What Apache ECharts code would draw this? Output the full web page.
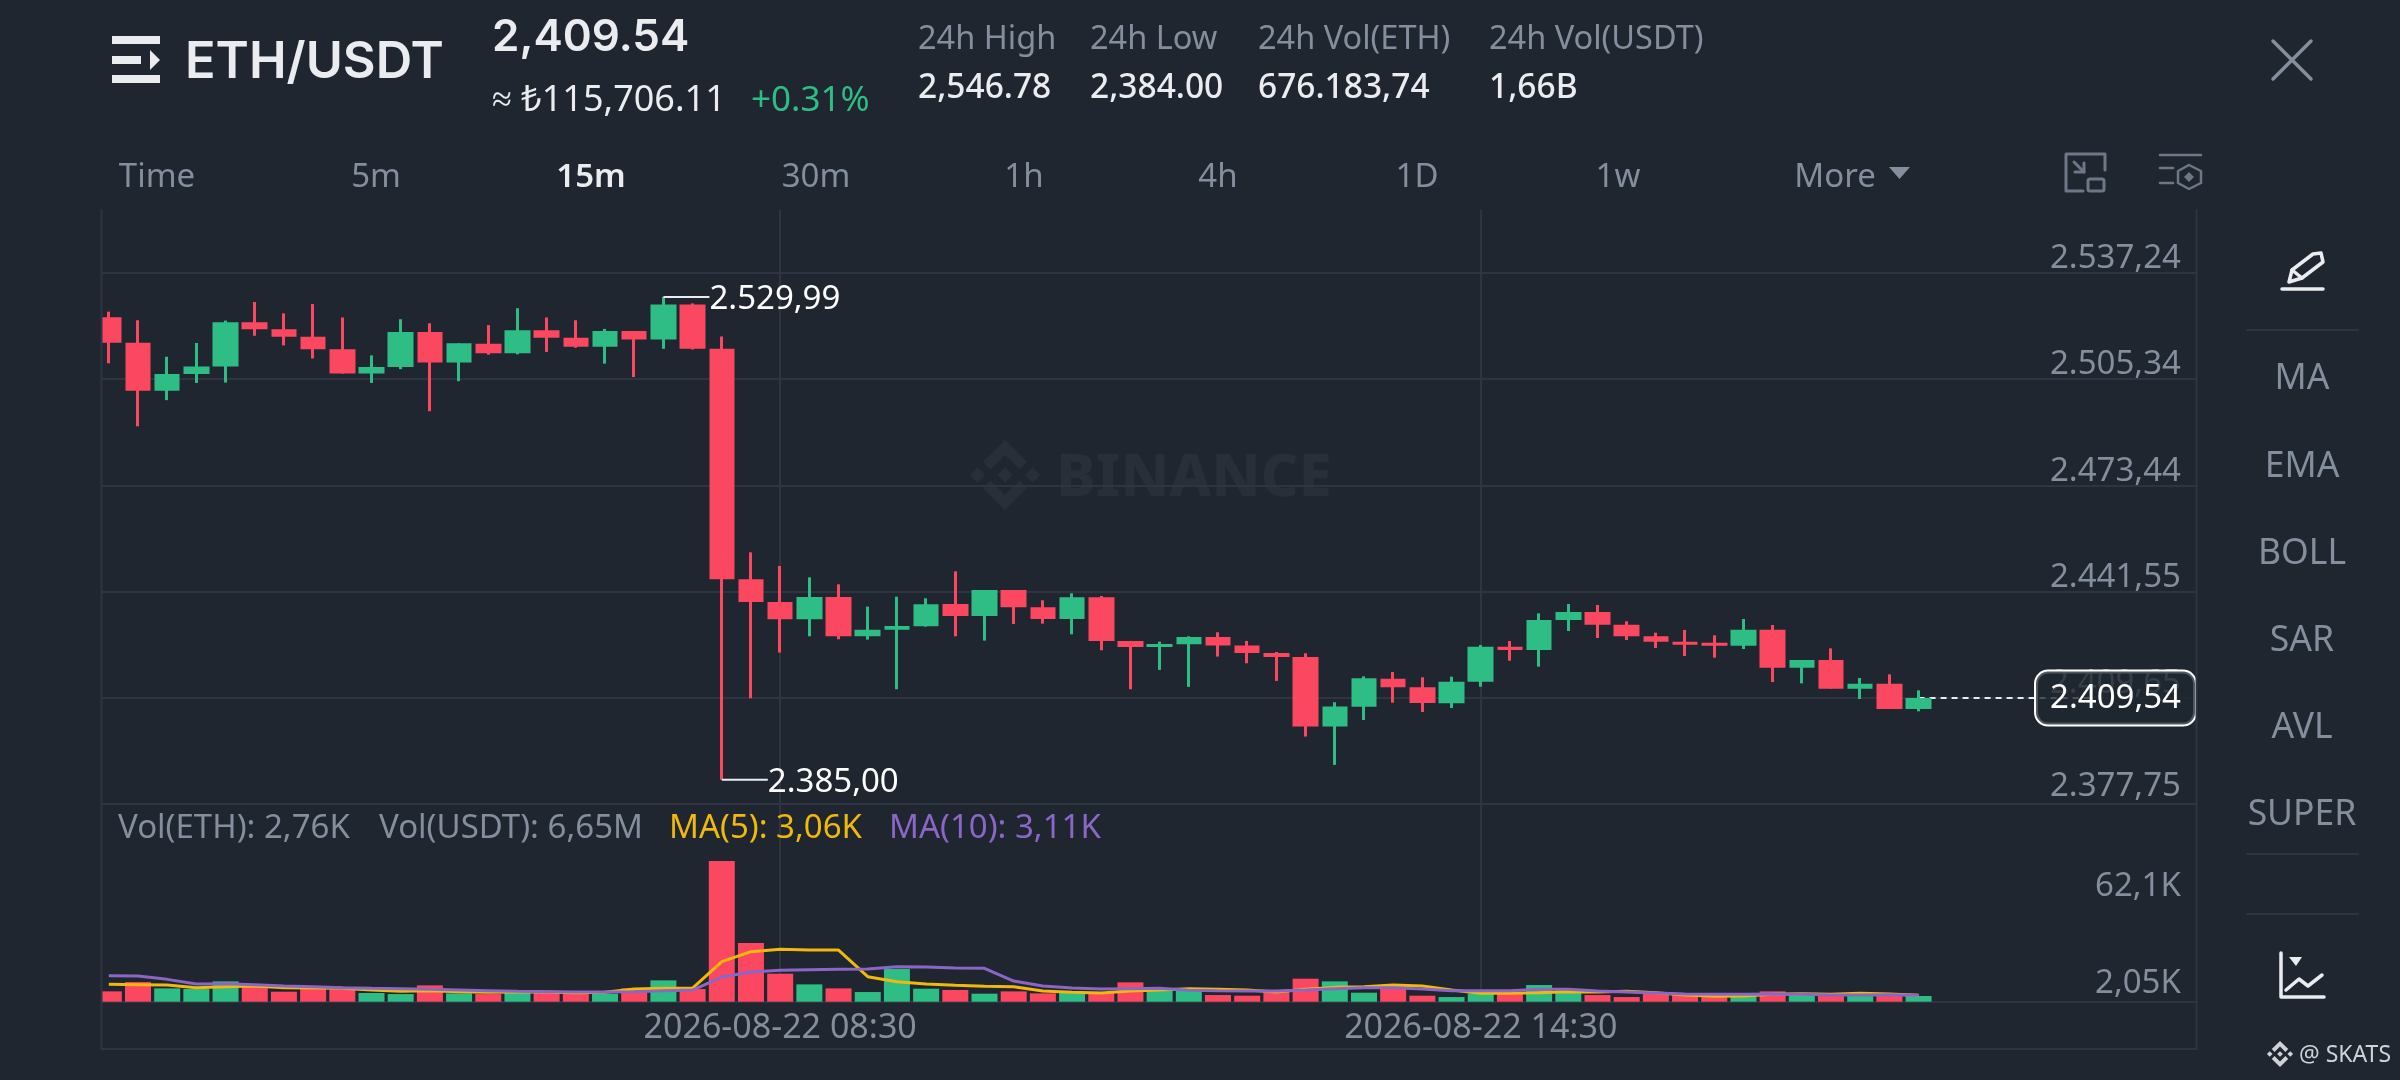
<!DOCTYPE html>
<html>
<head>
<meta charset="utf-8">
<style>html,body{margin:0;padding:0;background:#1f2630}#c{width:2400px;height:1080px}</style>
<script src="https://cdn.jsdelivr.net/npm/echarts@6/dist/echarts.min.js"></script>
</head>
<body>
<div id="c"></div>
<script>
const times = ['02:45','03:00','03:15','03:30','03:45','04:00','04:15','04:30','04:45','05:00','05:15','05:30','05:45','06:00','06:15','06:30','06:45','07:00','07:15','07:30','07:45','08:00','08:15','08:30','08:45','09:00','09:15','09:30','09:45','10:00','10:15','10:30','10:45','11:00','11:15','11:30','11:45','12:00','12:15','12:30','12:45','13:00','13:15','13:30','13:45','14:00','14:15','14:30','14:45','15:00','15:15','15:30','15:45','16:00','16:15','16:30','16:45','17:00','17:15','17:30','17:45','18:00','18:15','18:30','18:45','19:00','19:15','19:30','19:45','20:00','20:15','20:30'];
const labelledTimes = ['08:30','14:30'];
const opens = [2523.91,2516.26,2501.79,2506.85,2509.12,2522.36,2520.29,2518.02,2514.29,2506.96,2508.92,2519.46,2510.26,2515.95,2513.05,2519.98,2517.71,2515.02,2519.77,2517.19,2527.73,2514.4,2445.2,2438.4,2433.2,2439.9,2428.1,2430.1,2431.1,2437.8,2434.2,2442.0,2436.8,2433.3,2439.8,2426.7,2424.9,2425.7,2427.9,2425.3,2423.1,2421.9,2401.0,2406.97,2415.38,2412.77,2407.97,2414.47,2424.98,2423.98,2432.99,2435.39,2431.59,2428.08,2426.48,2426.18,2425.28,2430.09,2418.68,2420.98,2412.37,2413.87,2406.27];
const closes = [2516.26,2501.79,2506.85,2509.12,2522.36,2520.29,2518.02,2514.29,2506.96,2508.92,2519.46,2510.26,2516.05,2513.05,2519.98,2517.71,2515.02,2519.77,2517.19,2527.73,2514.4,2445.24,2438.4,2433.2,2439.9,2428.1,2430.1,2431.2,2437.7,2434.2,2442.0,2436.8,2433.3,2439.8,2426.7,2424.9,2425.8,2427.9,2425.3,2423.1,2421.9,2401.0,2407.0,2415.48,2412.77,2408.07,2414.47,2424.98,2423.98,2432.99,2435.39,2431.59,2428.08,2426.48,2425.58,2425.28,2430.09,2418.68,2420.98,2412.37,2413.87,2406.27,2409.54];
const lows = [2510.06,2491.14,2498.99,2504.16,2504.27,2518.33,2515.43,2511.5,2506.96,2504.16,2508.3,2495.68,2504.68,2512.64,2512.74,2513.47,2514.71,2509.95,2505.92,2514.4,2514.19,2385.0,2409.5,2423.2,2428.1,2427.2,2427.1,2412.2,2431.0,2428.1,2426.8,2431.8,2431.9,2428.7,2423.9,2412.2,2418.0,2412.9,2422.0,2420.0,2414.7,2398.0,2389.5,2402.97,2408.17,2405.37,2406.57,2412.97,2420.78,2418.98,2429.69,2427.58,2426.98,2424.58,2422.18,2421.68,2424.28,2414.37,2413.97,2412.37,2409.27,2406.27,2405.57];
const highs = [2525.56,2522.98,2512.02,2516.16,2522.88,2528.46,2525.05,2527.84,2523.81,2512.43,2523.29,2522.05,2516.05,2521.53,2526.6,2523.81,2522.98,2520.39,2519.77,2529.99,2528.04,2518.12,2453.31,2449.21,2445.8,2443.7,2437.0,2440.0,2439.5,2447.6,2442.0,2442.0,2438.9,2441.0,2440.2,2426.7,2426.5,2428.1,2429.3,2426.7,2423.4,2423.0,2408.3,2416.08,2417.38,2415.78,2415.98,2425.48,2426.68,2434.99,2437.79,2437.49,2432.59,2429.18,2429.99,2428.38,2433.29,2431.49,2420.98,2424.48,2415.58,2416.68,2411.87];
const volumes = [4.99,9.5,6.44,6.12,9.82,7.25,4.83,6.12,5.96,4.19,3.7,7.89,4.03,3.7,4.19,4.35,3.86,3.86,6.44,10.31,6.12,67.95,28.34,13.53,8.37,6.44,4.67,15.78,6.28,5.64,3.86,4.99,4.03,4.35,4.35,9.34,5.96,5.96,3.22,2.9,4.99,11.11,9.82,4.35,7.57,2.9,2.25,4.03,4.51,8.05,5.96,3.22,2.25,4.03,3.22,2.25,2.9,4.99,3.22,2.74,2.9,2.9,2.76];
const ma5 = [8.37,8.21,8.05,6.76,7.25,7.57,6.76,6.6,6.44,5.64,4.99,5.31,4.83,4.51,4.67,4.67,4.35,4.51,6.12,6.44,6.6,19.32,24.15,25.28,24.96,24.96,12.08,9.66,8.53,7.89,7.41,7.25,5.15,4.51,4.19,5.15,5.64,6.28,5.96,5.64,4.67,5.96,6.92,7.25,8.05,7.57,5.64,4.03,4.03,4.35,4.83,4.67,4.99,4.35,3.22,2.58,2.74,3.54,3.86,3.54,4.03,3.7,3.06];
const ma10 = [12.56,12.4,10.79,8.53,8.7,8.21,7.57,7.25,6.76,6.44,6.28,5.96,5.64,5.31,4.99,4.83,4.67,4.67,4.83,5.31,5.64,11.92,14.33,15.14,15.46,15.62,15.78,16.91,16.75,16.26,16.1,9.98,7.57,6.6,6.12,6.28,6.44,5.48,5.31,5.15,5.15,5.64,6.28,6.76,6.76,6.12,5.31,5.31,5.31,5.96,5.96,5.15,4.67,4.19,3.7,3.54,3.54,3.7,3.54,3.22,3.22,3.38,3.11];
const priceTickLabels = ['2.377,75','2.409,65','2.441,55','2.473,44','2.505,34','2.537,24'];
const volumeTickValues = [2.05,62.1];
const volumeTickLabels = ['2,05K','62,1K'];
const tabNames = ['Time','5m','15m','30m','1h','4h','1D','1w','More'];
const indicatorNames = ['MA','EMA','BOLL','SAR','AVL','SUPER'];
const statNames = ['24h High','24h Low','24h Vol(ETH)','24h Vol(USDT)'];
const statValues = ['2,546.78','2,384.00','676.183,74','1,66B'];

const FONT='"Noto Sans"';
const BG='#1f2630', GRID='#2e3541', GREY='#848e9c', LIGHT='#eaecef', UP='#2ebd85', DOWN='#fb4760', YEL='#f0b90b', PUR='#8a67c6';
const categories = times.map(t=>'2026-08-22 '+t);
const candles = opens.map((o,i)=>[o,closes[i],lows[i],highs[i]]);

const g=[];
function txt(x,y,text,size,fill,weight,align,family){g.push({type:'text',z:50,style:{x,y,text,fontSize:size,fontFamily:family||FONT,fontWeight:weight||400,fill,align:align||'left',verticalAlign:'middle'}});}
function ln(pts,stroke,w,fill){g.push({type:'polyline',z:50,shape:{points:pts},style:{stroke,lineWidth:w,fill:fill||null,lineJoin:'round',lineCap:'round'}});}
function rc(x,y,w,h,fill,r){g.push({type:'rect',z:50,shape:{x,y,width:w,height:h,r:r||0},style:{fill}});}
function poly(pts,fill,z){g.push({type:'polygon',z:z===undefined?50:z,shape:{points:pts},style:{fill}});}
function logo(cx,cy,r,fill,z){
  const sq=(x,y,s)=>poly([[x,y-s],[x+s,y],[x,y+s],[x-s,y]],fill,z);
  sq(cx,cy,r*.22);sq(cx-r*.79,cy,r*.22);sq(cx+r*.79,cy,r*.22);
  poly([[cx,cy-r],[cx+r*.63,cy-r*.38],[cx+r*.42,cy-r*.16],[cx,cy-r*.57],[cx-r*.42,cy-r*.16],[cx-r*.63,cy-r*.38]],fill,z);
  poly([[cx,cy+r],[cx+r*.63,cy+r*.38],[cx+r*.42,cy+r*.16],[cx,cy+r*.57],[cx-r*.42,cy+r*.16],[cx-r*.63,cy+r*.38]],fill,z);
}
// left clip strip and frame
rc(90,205,11,810,BG);
ln([[101.5,210],[101.5,1049],[2196.5,1049],[2196.5,210]],GRID,2);
// header
rc(112,36,48,8,LIGHT);rc(112,56,29,8,LIGHT);rc(112,75,48,8,LIGHT);poly([[150,50],[160,60],[150,70]],LIGHT);
txt(185,63,'ETH/USDT',50.5,LIGHT,600,'left','Inter');
txt(492,38,'2,409.54',44,LIGHT,600,'left','Inter');
txt(492,101,'≈ ₺115,706.11',36,LIGHT,400);
txt(751,101,'+0.31%',35,UP,400);
[918,1090,1258,1489].forEach((x,i)=>{txt(x,40,statNames[i],32.5,GREY);txt(x,88,statValues[i],33.5,LIGHT,500);});
ln([[2273,41],[2311,79]],GREY,3.5);ln([[2311,41],[2273,79]],GREY,3.5);
[157,376,591,816,1024,1218,1417,1618,1835].forEach((x,i)=>txt(x,178,tabNames[i],33,i===2?LIGHT:GREY,i===2?600:400,'center'));
poly([[1889,167],[1910,167],[1899.5,179]],GREY);
// top-right icons
ln([[2105,170],[2105,154],[2066,154],[2066,191],[2083,191]],'#6e7785',3);
g.push({type:'rect',z:50,shape:{x:2088,y:179,width:16,height:12,r:2},style:{stroke:'#6e7785',lineWidth:3,fill:null}});
ln([[2074,162],[2084,172]],'#6e7785',3);ln([[2084,163],[2084,172],[2075,172]],'#6e7785',3);
ln([[2160,155],[2201,155]],'#6e7785',2.5);ln([[2160,168],[2173,168]],'#6e7785',2.5);ln([[2160,183],[2173,183]],'#6e7785',2.5);
ln([[2189,165],[2201,171],[2201,183],[2189,189],[2178,183],[2178,171],[2189,165]],'#6e7785',2.5);
poly([[2189,172],[2194,177],[2189,182],[2184,177]],'#6e7785');
// right column
ln([[2282,289],[2323,289]],LIGHT,3.5);
ln([[2289,282],[2292,270],[2313,254],[2321,253],[2323,262],[2302,278],[2289,282]],LIGHT,3.5);ln([[2292,270],[2302,278]],LIGHT,3.5);
ln([[2247,330],[2358,330]],GRID,2);ln([[2247,854],[2358,854]],GRID,2);ln([[2247,914],[2358,914]],GRID,2);
[379,467,554,641,728,815].forEach((y,i)=>txt(2302,y,indicatorNames[i],35.5,GREY,400,'center'));
ln([[2281,953],[2281,997],[2324,997]],LIGHT,3.5);ln([[2286,990],[2299,979],[2308,986],[2322,975]],LIGHT,3.5);
poly([[2289,957],[2302,957],[2296,966]],LIGHT);
// legend over volume pane
txt(118,829,'Vol(ETH): 2,76K',33,GREY);
txt(379,829,'Vol(USDT): 6,65M',33,GREY);
txt(669,829,'MA(5): 3,06K',33,YEL);
txt(889,829,'MA(10): 3,11K',33,PUR);
// watermark
logo(1005,475,35,'rgba(255,255,255,.045)',-1);
g.push({type:'text',z:-1,style:{x:1056,y:479,text:'BINANCE',fontSize:59.5,fontFamily:FONT,fontWeight:800,fill:'rgba(255,255,255,.045)',verticalAlign:'middle'}});
// signature
logo(2280,1054,13,'#cfd3d8');
txt(2299,1055,'@ SKATS',23,'#cfd3d8');

const labelIdx = labelledTimes.map(t=>times.indexOf(t));
const candleBase={type:'candlestick',xAxisIndex:0,yAxisIndex:0,data:candles};
const chart=echarts.init(document.getElementById('c'));
chart.setOption({
  backgroundColor:BG,
  animation:false,
  textStyle:{fontFamily:FONT},
  graphic:g,
  grid:[{left:94.2,right:204.1,top:210,height:594},{left:94.2,right:204.1,top:804,height:197.7}],
  xAxis:[
    {type:'category',gridIndex:0,data:categories,boundaryGap:true,axisLine:{show:false},axisTick:{show:false},axisLabel:{show:false},
      splitLine:{show:true,alignWithLabel:true,interval:(i)=>labelIdx.includes(i),lineStyle:{color:GRID,width:2}}},
    {type:'category',gridIndex:1,data:categories,boundaryGap:true,axisLine:{show:true,lineStyle:{color:GRID,width:2}},axisTick:{show:false},
      axisLabel:{show:true,interval:(i)=>labelIdx.includes(i),color:GREY,fontSize:34,margin:10,hideOverlap:false},
      splitLine:{show:true,alignWithLabel:true,interval:(i)=>labelIdx.includes(i),lineStyle:{color:GRID,width:2}}}
  ],
  yAxis:[
    {type:'value',gridIndex:0,position:'right',min:2377.75,max:2556.08,interval:31.898,scale:true,
      axisLine:{show:false},axisTick:{show:false},splitLine:{show:true,showMinLine:true,showMaxLine:false,lineStyle:{color:GRID,width:2}},
      axisLabel:{inside:true,margin:15,align:'right',verticalAlign:'middle',showMinLabel:true,showMaxLabel:false,hideOverlap:false,
        formatter:(v,i)=>priceTickLabels[i]?`{${i===0?'b':'t'}|${priceTickLabels[i]}}`:'',
        rich:{t:{color:GREY,fontSize:33,padding:[0,0,28,0]},b:{color:GREY,fontSize:33,padding:[0,0,35,0]}}}},
    {type:'value',gridIndex:1,position:'right',min:0,max:95.5,splitLine:{show:false},axisLine:{show:false},axisTick:{show:false},
      axisLabel:{inside:true,margin:15,align:'right',customValues:volumeTickValues,hideOverlap:false,
        formatter:(v)=>{const i=volumeTickValues.indexOf(v);return i===0?`{low|${volumeTickLabels[0]}}`:`{high|${volumeTickLabels[1]}}`;},
        rich:{low:{color:GREY,fontSize:33,padding:[0,0,27,0]},high:{color:GREY,fontSize:33,padding:[27,0,0,0]}}}}
  ],
  series:[
    Object.assign({},candleBase,{name:'ETH/USDT wicks',barWidth:1,z:3,
      itemStyle:{color:UP,color0:DOWN,borderColor:UP,borderColor0:DOWN,borderWidth:3},
      markLine:{z:1,silent:true,animation:false,symbol:'none',label:{show:false},lineStyle:{color:LIGHT,type:[6,5],width:2},
        data:[[{coord:[categories[62],2409.54]},{coord:[categories[68],2409.54]}]]}}),
    Object.assign({},candleBase,{name:'ETH/USDT',barWidth:26,z:4,
      itemStyle:{color:UP,color0:DOWN,borderColor:UP,borderColor0:DOWN,borderWidth:0},
      markPoint:{z:20,animation:false,data:[
        {coord:[categories[19],2529.99],symbol:'rect',symbolSize:[46,2],symbolOffset:[23,0],itemStyle:{color:LIGHT},
          label:{show:true,position:'right',distance:0,offset:[0,3],formatter:'2.529,99',color:'#fff',fontSize:33}},
        {coord:[categories[21],2385.00],symbol:'rect',symbolSize:[46,2],symbolOffset:[23,0],itemStyle:{color:LIGHT},
          label:{show:true,position:'right',distance:0,offset:[0,3],formatter:'2.385,00',color:'#fff',fontSize:33}},
        {coord:[categories[69],2409.54],symbol:'circle',symbolSize:1,itemStyle:{color:'rgba(0,0,0,0)'},
          label:{show:true,position:'inside',offset:[-7.4,0],formatter:'2.409,54',color:'#fff',fontSize:33,width:159,height:49,lineHeight:49,padding:[4,0,0,0],align:'center',verticalAlign:'middle',
            backgroundColor:'rgba(31,38,48,.78)',borderColor:'#fff',borderWidth:2,borderRadius:12}}
      ]}}),
    {type:'bar',name:'Vol(ETH)',xAxisIndex:1,yAxisIndex:1,data:volumes.map((v,i)=>({value:v,itemStyle:{color:closes[i]>opens[i]?UP:DOWN}})),barWidth:26},
    {type:'line',name:'MA(5)',xAxisIndex:1,yAxisIndex:1,data:ma5,showSymbol:false,symbol:'none',lineStyle:{color:YEL,width:3},itemStyle:{color:YEL},z:4},
    {type:'line',name:'MA(10)',xAxisIndex:1,yAxisIndex:1,data:ma10,showSymbol:false,symbol:'none',lineStyle:{color:PUR,width:3},itemStyle:{color:PUR},z:5}
  ]
});
</script>
</body>
</html>
